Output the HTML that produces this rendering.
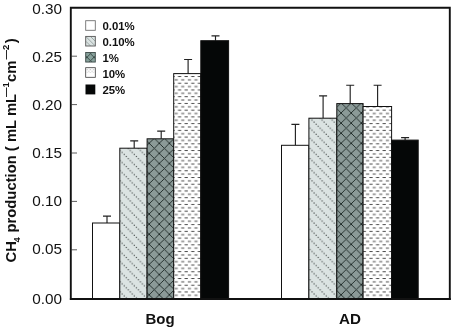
<!DOCTYPE html>
<html><head><meta charset="utf-8"><title>CH4 production</title>
<style>
html,body{margin:0;padding:0;background:#fff;}
body{width:454px;height:330px;overflow:hidden;}
svg{display:block;}
text{font-family:"Liberation Sans",Arial,Helvetica,sans-serif;fill:#111;}
.tk{font-size:15.3px;}
.b{font-weight:bold;}
</style></head><body>
<svg width="454" height="330" viewBox="0 0 454 330">
<defs>

<pattern id="p1" width="10.1" height="10.1" patternUnits="userSpaceOnUse" patternTransform="translate(0 0)">
<rect width="10.1" height="10.1" fill="#dbe3e2"/>
<g fill="#3c4242"><rect x="0.45" y="0.45" width="1.1" height="1.1"/><rect x="2.47" y="2.47" width="1.1" height="1.1"/><rect x="4.49" y="4.49" width="1.1" height="1.1"/><rect x="6.51" y="6.51" width="1.1" height="1.1"/><rect x="8.53" y="8.53" width="1.1" height="1.1"/></g>
</pattern>

<pattern id="p2" width="10.1" height="10.1" patternUnits="userSpaceOnUse" patternTransform="translate(7.78 1.88)">
<rect width="10.1" height="10.1" fill="#8b9a98"/>
<path d="M0 0L10.1 10.1M10.1 0L0 10.1" stroke="#1c2624" stroke-width="0.9" fill="none"/>
</pattern>

<pattern id="p3" width="6.6" height="20.2" patternUnits="userSpaceOnUse" patternTransform="translate(175.7 76)">
<rect width="6.6" height="20.2" fill="#fff"/>
<g stroke="#484848" stroke-width="1" fill="none"><path d="M2.3 0.50h3.2"/><path d="M0 3.87h2.1M5.5 3.87h1.1"/><path d="M2.3 7.23h3.2"/><path d="M0 10.60h2.1M5.5 10.60h1.1"/><path d="M2.3 13.97h3.2"/><path d="M0 17.33h2.1M5.5 17.33h1.1"/></g>
</pattern>

<pattern id="q2" width="7" height="7" patternUnits="userSpaceOnUse" patternTransform="translate(87 57.25)">
<rect width="7" height="7" fill="#86a09a"/>
<path d="M0 0L7 7M7 0L0 7" stroke="#2c3a38" stroke-width="0.8" fill="none"/>
</pattern>

<pattern id="q3" width="3.3" height="3.4" patternUnits="userSpaceOnUse" patternTransform="translate(86 69)">
<rect width="3.3" height="3.4" fill="#fff"/>
<path d="M.4 .6h1.4M2.1 2.3h1.2M0 2.3h.2" stroke="#aaa" stroke-width="0.7" fill="none"/>
</pattern>
</defs>
<rect width="454" height="330" fill="#fff"/>

<path d="M107.0 223.0V216.1M103.0 216.1h8" stroke="#222" stroke-width="1.15" fill="none"/>
<rect x="92.5" y="223.0" width="27.3" height="76.0" fill="#fff" stroke="#111" stroke-width="1"/>
<path d="M134.2 148.2V140.8M130.2 140.8h8" stroke="#222" stroke-width="1.15" fill="none"/>
<rect x="119.8" y="148.2" width="27.3" height="150.8" fill="url(#p1)" stroke="#111" stroke-width="1"/>
<path d="M161.2 138.8V131.1M157.2 131.1h8" stroke="#222" stroke-width="1.15" fill="none"/>
<rect x="147.1" y="138.8" width="26.6" height="160.2" fill="url(#p2)" stroke="#111" stroke-width="1"/>
<path d="M188.1 73.6V59.5M184.1 59.5h8" stroke="#222" stroke-width="1.15" fill="none"/>
<rect x="173.7" y="73.6" width="27.1" height="225.4" fill="url(#p3)" stroke="#111" stroke-width="1"/>
<path d="M215.5 40.7V35.8M211.5 35.8h8" stroke="#222" stroke-width="1.15" fill="none"/>
<rect x="200.8" y="40.7" width="27.8" height="258.3" fill="#050707" stroke="#111" stroke-width="1"/>
<path d="M295.4 145.3V124.4M291.4 124.4h8" stroke="#222" stroke-width="1.15" fill="none"/>
<rect x="281.5" y="145.3" width="27.4" height="153.7" fill="#fff" stroke="#111" stroke-width="1"/>
<path d="M323.1 118.2V95.8M319.1 95.8h8" stroke="#222" stroke-width="1.15" fill="none"/>
<rect x="308.9" y="118.2" width="27.9" height="180.8" fill="url(#p1)" stroke="#111" stroke-width="1"/>
<path d="M350.2 103.6V85.2M346.2 85.2h8" stroke="#222" stroke-width="1.15" fill="none"/>
<rect x="336.8" y="103.6" width="26.3" height="195.4" fill="url(#p2)" stroke="#111" stroke-width="1"/>
<path d="M377.6 106.5V85.2M373.6 85.2h8" stroke="#222" stroke-width="1.15" fill="none"/>
<rect x="363.1" y="106.5" width="28.5" height="192.5" fill="url(#p3)" stroke="#111" stroke-width="1"/>
<path d="M405.1 140.1V137.6M401.1 137.6h8" stroke="#222" stroke-width="1.15" fill="none"/>
<rect x="391.6" y="140.1" width="26.6" height="158.9" fill="#050707" stroke="#111" stroke-width="1"/>
<path d="M70.8 6.85V300.0M449.8 6.85V300.0M69.89999999999999 7.8H450.7" fill="none" stroke="#111" stroke-width="1.9"/>
<path d="M69.89999999999999 299.0H450.7" fill="none" stroke="#111" stroke-width="2"/>
<text class="tk" x="62" y="303.6" text-anchor="end">0.00</text>
<path d="M70.8 249.8h6.2" stroke="#333" stroke-width="0.8"/>
<text class="tk" x="62" y="254.0" text-anchor="end">0.05</text>
<path d="M70.8 201.4h6.2" stroke="#333" stroke-width="0.8"/>
<text class="tk" x="62" y="206.4" text-anchor="end">0.10</text>
<path d="M70.8 153.0h6.2" stroke="#333" stroke-width="0.8"/>
<text class="tk" x="62" y="158.0" text-anchor="end">0.15</text>
<path d="M70.8 104.6h6.2" stroke="#333" stroke-width="0.8"/>
<text class="tk" x="62" y="110.3" text-anchor="end">0.20</text>
<path d="M70.8 56.2h6.2" stroke="#333" stroke-width="0.8"/>
<text class="tk" x="62" y="61.7" text-anchor="end">0.25</text>
<text class="tk" x="62" y="13.5" text-anchor="end">0.30</text>
<rect x="85.7" y="20.70" width="9.6" height="9.6" fill="#fff" stroke="#707070" stroke-width="0.9"/>
<text class="b" font-size="11.4" x="102.4" y="30.0">0.01%</text>
<rect x="85.7" y="36.40" width="9.6" height="9.6" fill="#dbe3e2"/>
<path d="M86.2 36.9l8.6 8.6M90.8 36.8l4.4 4.4M86 41.4l4.4 4.4" stroke="#7d8a88" stroke-width="0.9" opacity="0.75" fill="none"/>
<rect x="85.7" y="36.40" width="9.6" height="9.6" fill="none" stroke="#555" stroke-width="0.9"/>
<text class="b" font-size="11.4" x="102.4" y="46.0">0.10%</text>
<rect x="85.7" y="52.45" width="9.6" height="9.6" fill="url(#q2)" stroke="#3c4a48" stroke-width="0.9"/>
<text class="b" font-size="11.4" x="102.4" y="62.1">1%</text>
<rect x="85.7" y="67.70" width="9.6" height="9.6" fill="#fff"/>
<rect x="86.4" y="68.5" width="8.2" height="4.4" fill="url(#q3)"/>
<rect x="85.7" y="67.70" width="9.6" height="9.6" fill="none" stroke="#3a3a3a" stroke-width="0.8"/>
<text class="b" font-size="11.4" x="102.4" y="78.0">10%</text>
<rect x="85.5" y="84.5" width="9.8" height="9.9" fill="#050707"/>
<text class="b" font-size="11.4" x="102.4" y="94.0">25%</text>
<text class="b" font-size="15" x="160" y="323.6" text-anchor="middle">Bog</text>
<text class="b" font-size="15.2" x="349.9" y="323.5" text-anchor="middle">AD</text>
<text class="b" font-size="14.8" transform="translate(16.2 262.5) rotate(-90)">CH<tspan font-size="9.5" dy="3.8" dx="-1.4">4</tspan><tspan dy="-3.8" dx="0.6"> production ( mL mL</tspan><tspan font-size="9.5" dy="-6.8" dx="-3">—1</tspan><tspan dy="6.8">cm</tspan><tspan font-size="9.5" dy="-6.8" dx="1.2">—2</tspan><tspan dy="6.8" dx="1.5">)</tspan></text>
</svg></body></html>
